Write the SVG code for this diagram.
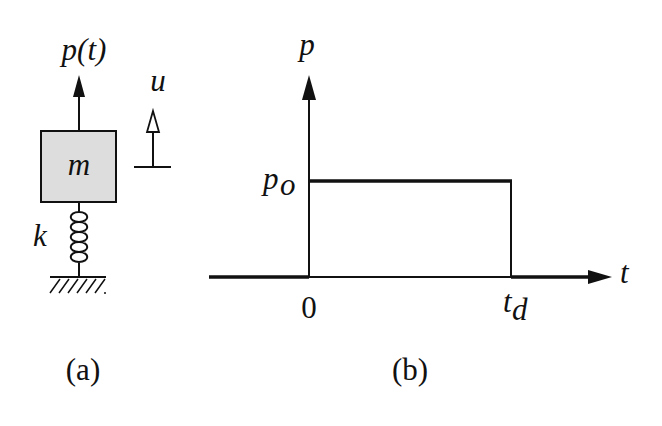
<svg xmlns="http://www.w3.org/2000/svg" width="662" height="426" viewBox="0 0 662 426">
<style>
.t{font-family:'Liberation Serif','Times New Roman',serif;font-size:31px;fill:#111}
.i{font-style:italic}
.l{stroke:#111;fill:none;stroke-width:2}
.b{stroke:#111;fill:none;stroke-width:3.5}
</style>
<rect width="662" height="426" fill="#fff"/>
<g id="mass">
<rect x="41" y="131" width="75" height="71" fill="#ddd" stroke="#111" stroke-width="2"/>
<text class="t i" x="79" y="175" text-anchor="middle">m</text>
</g>
<g id="spring">
<path class="l" d="M79 202 V212 C68 212 68 222 79 222 C90 222 90 212 79 212 M79 222 C68 222 68 232 79 232 C90 232 90 222 79 222 M79 232 C68 232 68 242 79 242 C90 242 90 232 79 232 M79 242 C68 242 68 252 79 252 C90 252 90 242 79 242 M79 252 C68 252 68 262 79 262 C90 262 90 252 79 252 M79 262 V277"/>
<text class="t i" x="40" y="246" text-anchor="middle">k</text>
</g>
<g id="ground">
<line class="l" x1="50" y1="277" x2="106" y2="277"/>
<path stroke="#111" stroke-width="1.5" d="M50 293 l10 -14 M59 293 l10 -14 M68 293 l10 -14 M77 293 l10 -14 M86 293 l10 -14 M95 293 l10 -14"/>
<circle cx="105" cy="293" r="1" fill="#111"/>
</g>
<g id="force">
<line class="l" x1="79" y1="131" x2="79" y2="95"/>
<polygon points="79,75 73,97 85,97" fill="#111"/>
<text class="t i" x="84" y="60" text-anchor="middle">p(t)</text>
</g>
<g id="disp">
<line class="l" x1="134" y1="167" x2="171" y2="167"/>
<line class="l" x1="153" y1="167" x2="153" y2="132"/>
<polygon points="153,111 147,132 159,132" fill="#fff" stroke="#111" stroke-width="1.8"/>
<text class="t i" x="158" y="91" text-anchor="middle">u</text>
</g>
<g id="connectors">
<line class="l" x1="309" y1="277" x2="309" y2="98"/>
<polygon points="309,75 302,100 316,100" fill="#111"/>
<line class="b" x1="209" y1="277" x2="309" y2="277"/>
<line class="l" x1="309" y1="277" x2="511" y2="277"/>
<line class="b" x1="511" y1="277" x2="590" y2="277"/>
<polygon points="612,277 588,270 588,284" fill="#111"/>
<line class="b" x1="309" y1="181" x2="512" y2="181"/>
<line class="l" x1="511" y1="181" x2="511" y2="277"/>
</g>
<g id="labels">
<text class="t i" x="307" y="55" text-anchor="middle">p</text>
<text class="t i" x="263" y="189">p</text><text class="t i" x="280" y="195" font-size="23">o</text>
<text class="t" x="309" y="318" text-anchor="middle">0</text>
<text class="t i" x="503" y="312">t</text><text class="t i" x="512" y="320" font-size="23">d</text>
<text class="t i" x="620" y="283">t</text>
<text class="t" x="83" y="380" text-anchor="middle">(a)</text>
<text class="t" x="410" y="380" text-anchor="middle">(b)</text>
</g>
</svg>
